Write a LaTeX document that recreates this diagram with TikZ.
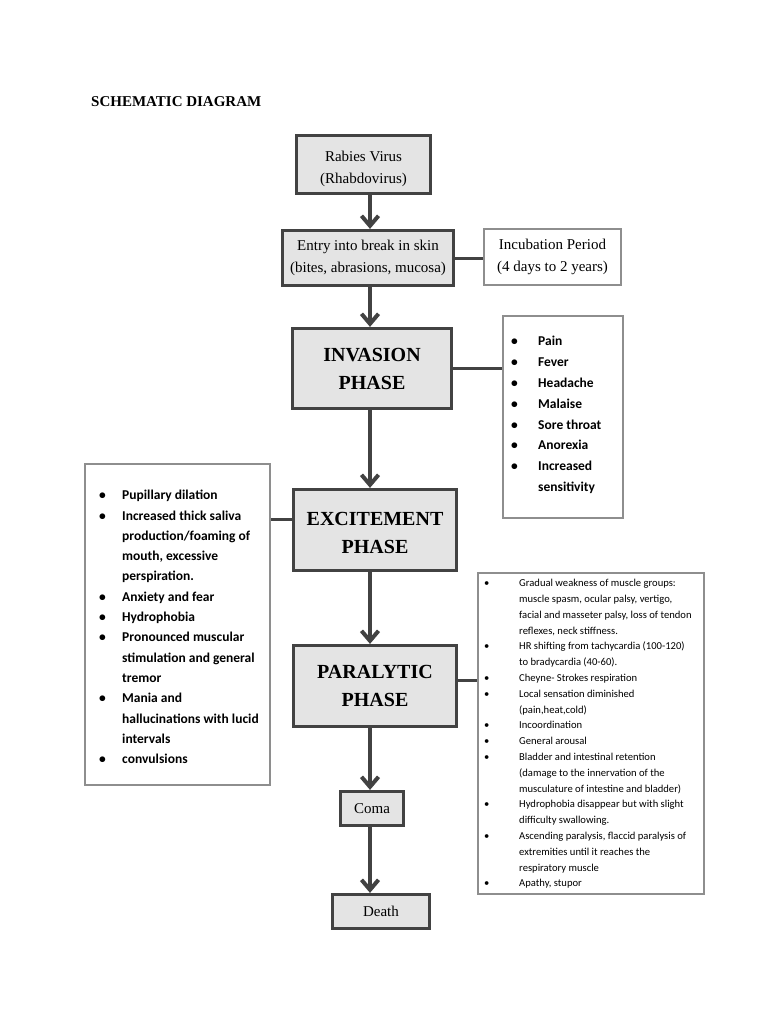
\documentclass[tikz,border=0pt]{standalone}
\usepackage{fontspec}
\setmainfont{Liberation Serif}
\newfontfamily\calib{Carlito}
\usetikzlibrary{arrows.meta}
\definecolor{edge}{HTML}{424242}
\definecolor{phasefill}{HTML}{E4E4E4}
\definecolor{notegray}{HTML}{8E8E8E}
\newcommand\bl[1]{\makebox[#1][l]{\textbullet}}
\newcommand\hg[1]{\hspace*{#1}}
\begin{document}
\begin{tikzpicture}[x=1pt,y=-1pt,
  phase/.style={draw=edge, line width=3.2pt, fill=phasefill, align=center, inner sep=0pt,
    font=\bfseries\fontsize{20}{28}\selectfont},
  plainbox/.style={draw=edge, line width=3.2pt, fill=phasefill, align=center, inner sep=0pt,
    font=\fontsize{15}{21.5}\selectfont},
  note/.style={draw=notegray, line width=2.2pt, fill=white, inner sep=0pt},
  listtext/.style={align=left, anchor=west, inner sep=0pt},
  arr/.style={draw=edge, line width=4pt, -{Straight Barb[length=10pt,width=17pt]}},
  link/.style={draw=edge, line width=3pt}]
\useasboundingbox (0,0) rectangle (768,1024);
\fill[white] (0,0) rectangle (768,1024);

\node[anchor=west, inner sep=0pt, font=\bfseries\fontsize{15}{18}\selectfont] (title) at (91,102) {SCHEMATIC DIAGRAM};

\node[plainbox, minimum width=134, minimum height=58] (rabies) at (363.5,164.5) {\rule{0pt}{19pt}Rabies Virus\\(Rhabdovirus)};
\node[plainbox, minimum width=171, minimum height=55] (entry) at (368,258) {Entry into break in skin\\(bites, abrasions, mucosa)};
\node[note, minimum width=137, minimum height=56, align=center, font=\fontsize{15}{21.5}\selectfont] (incub) at (552.5,257) {Incubation Period\\(4 days to 2 years)};

\node[phase, minimum width=159, minimum height=80] (invasion) at (372,368.5) {INVASION\\PHASE};
\node[note, minimum width=120, minimum height=202] (invb) at (563,417) {};
\node[listtext, font=\calib\bfseries\fontsize{13.5}{20.85}\selectfont] (invt) at (511,415) {%
\bl{27pt}Pain\\
\bl{27pt}Fever\\
\bl{27pt}Headache\\
\bl{27pt}Malaise\\
\bl{27pt}Sore throat\\
\bl{27pt}Anorexia\\
\bl{27pt}Increased\\
\hg{27pt}sensitivity};

\node[phase, minimum width=163, minimum height=81] (excite) at (375,530) {\rule{0pt}{20pt}EXCITEMENT\\PHASE};
\node[note, minimum width=185, minimum height=321] (leftb) at (177.5,624.5) {};
\node[listtext, font=\calib\bfseries\fontsize{13.5}{20.3}\selectfont] (leftt) at (99,627) {%
\bl{23pt}Pupillary dilation\\
\bl{23pt}Increased thick saliva\\
\hg{23pt}production/foaming of\\
\hg{23pt}mouth, excessive\\
\hg{23pt}perspiration.\\
\bl{23pt}Anxiety and fear\\
\bl{23pt}Hydrophobia\\
\bl{23pt}Pronounced muscular\\
\hg{23pt}stimulation and general\\
\hg{23pt}tremor\\
\bl{23pt}Mania and\\
\hg{23pt}hallucinations with lucid\\
\hg{23pt}intervals\\
\bl{23pt}convulsions};

\node[phase, minimum width=163, minimum height=81] (paralytic) at (375,686) {PARALYTIC\\PHASE};
\node[note, minimum width=226, minimum height=321] (parb) at (591,733.5) {};
\node[listtext, font=\calib\fontsize{10.6}{15.79}\selectfont] (part) at (484,734) {%
\bl{35pt}Gradual weakness of muscle groups:\\
\hg{35pt}muscle spasm, ocular palsy, vertigo,\\
\hg{35pt}facial and masseter palsy, loss of tendon\\
\hg{35pt}reflexes, neck stiffness.\\
\bl{35pt}HR shifting from tachycardia (100-120)\\
\hg{35pt}to bradycardia (40-60).\\
\bl{35pt}Cheyne- Strokes respiration\\
\bl{35pt}Local sensation diminished\\
\hg{35pt}(pain,heat,cold)\\
\bl{35pt}Incoordination\\
\bl{35pt}General arousal\\
\bl{35pt}Bladder and intestinal retention\\
\hg{35pt}(damage to the innervation of the\\
\hg{35pt}musculature of intestine and bladder)\\
\bl{35pt}Hydrophobia disappear but with slight\\
\hg{35pt}difficulty swallowing.\\
\bl{35pt}Ascending paralysis, flaccid paralysis of\\
\hg{35pt}extremities until it reaches the\\
\hg{35pt}respiratory muscle\\
\bl{35pt}Apathy, stupor};

\node[plainbox, minimum width=63, minimum height=34, font=\fontsize{15}{18}\selectfont] (coma) at (372,808.5) {Coma};
\node[plainbox, minimum width=97, minimum height=34, font=\fontsize{15}{18}\selectfont] (death) at (381,911.5) {Death};

\coordinate (ax) at (370,0);
\coordinate (exy) at (0,519);
\coordinate (pay) at (0,680);

\draw[arr] (rabies.south -| ax) -- (entry.north -| ax);
\draw[arr] (entry.south -| ax) -- (invasion.north -| ax);
\draw[arr] (invasion.south -| ax) -- (excite.north -| ax);
\draw[arr] (excite.south -| ax) -- (paralytic.north -| ax);
\draw[arr] (paralytic.south -| ax) -- (coma.north -| ax);
\draw[arr] (coma.south -| ax) -- (death.north -| ax);

\draw[link] (entry.east) -- (entry.east -| incub.west);
\draw[link] (invasion.east) -- (invasion.east -| invb.west);
\draw[link] (leftb.east |- exy) -- (excite.west |- exy);
\draw[link] (paralytic.east |- pay) -- (parb.west |- pay);
\end{tikzpicture}
\end{document}
